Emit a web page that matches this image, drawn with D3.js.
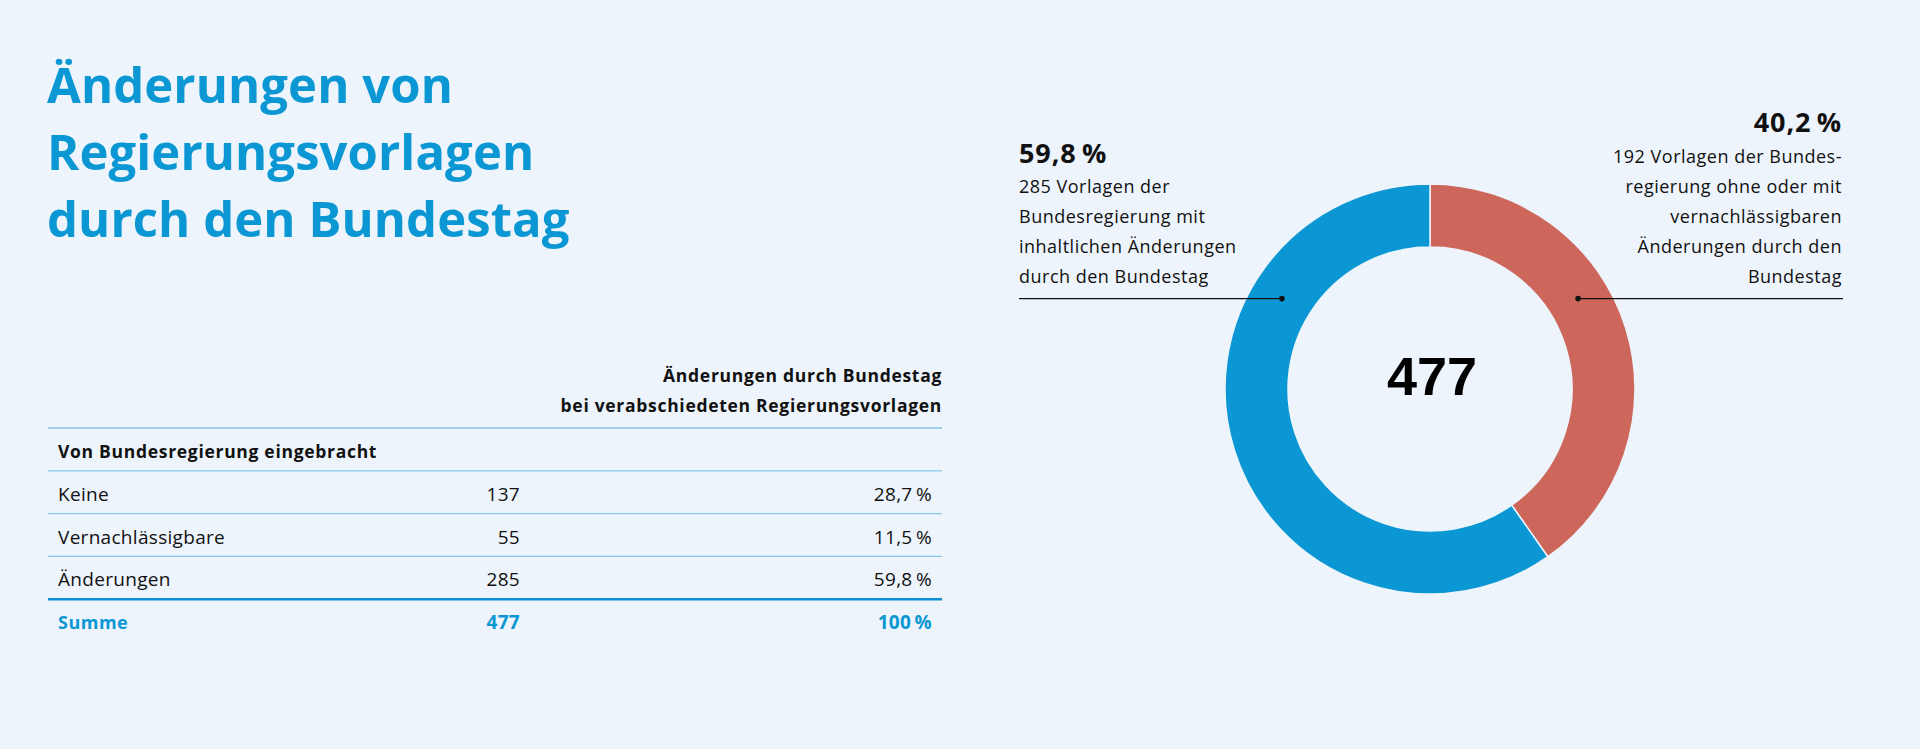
<!DOCTYPE html>
<html>
<head>
<meta charset="utf-8">
<script src="https://cdn.jsdelivr.net/npm/d3@7"></script>
<style>
  body { margin: 0; background: #edf4fc; }
  svg { display: block; }
</style>
</head>
<body>
<svg width="1920" height="749"></svg>
<script>
// data
var titleLines = ["Änderungen von", "Regierungsvorlagen", "durch den Bundestag"];
var tableHead = ["Änderungen durch Bundestag", "bei verabschiedeten Regierungsvorlagen"];
var groupLabel = "Von Bundesregierung eingebracht";
var rowLabels = ["Keine", "Vernachlässigbare", "Änderungen"];
var rowCounts = [137, 55, 285];
var rowShares = [28.7, 11.5, 59.8];
var sumLabel = "Summe";
var sumCount = 477;
var sumShare = 100;

var sliceNames = ["ohne", "mit"];
var sliceValues = [192, 285];
var sliceShares = [40.2, 59.8];
var sliceTexts = [
  ["192 Vorlagen der Bundes-", "regierung ohne oder mit", "vernachlässigbaren", "Änderungen durch den", "Bundestag"],
  ["285 Vorlagen der", "Bundesregierung mit", "inhaltlichen Änderungen", "durch den Bundestag"]
];

var blue = "#0a97d3", red = "#cd675c", ink = "#111";
var sans = "'Open Sans', sans-serif";
var de = d3.formatLocale({decimal: ",", thousands: ".", grouping: [3], currency: ["", " €"]});
var fmtPct = function(v) { return (v % 1 === 0 ? de.format("d")(v) : de.format(".1f")(v)) + "\u2009%"; };

var svg = d3.select("svg");

// title
svg.append("g").selectAll("text")
  .data(titleLines)
  .enter().append("text")
  .attr("x", 47)
  .attr("y", function(d, i) { return 103 + i * 67; })
  .style("font-family", sans)
  .style("font-weight", 700)
  .style("font-size", "49px")
  .style("letter-spacing", "0.1px")
  .style("fill", blue)
  .text(function(d) { return d; });

// table
var tbl = svg.append("g");
var left = 48, right = 942, colCount = 520, colShare = 932;

tbl.selectAll(".head")
  .data(tableHead)
  .enter().append("text")
  .attr("x", right)
  .attr("y", function(d, i) { return 382 + i * 30; })
  .attr("text-anchor", "end")
  .style("font-family", sans)
  .style("font-weight", 700)
  .style("font-size", "17.5px")
  .style("letter-spacing", "0.7px")
  .style("fill", ink)
  .text(function(d) { return d; });

var rows = [{label: groupLabel, group: true}]
  .concat(rowLabels.map(function(l, i) { return {label: l, count: rowCounts[i], share: rowShares[i]}; }))
  .concat([{label: sumLabel, count: sumCount, share: sumShare, sum: true}]);

var y = d3.scaleBand()
  .domain(d3.range(rows.length))
  .range([428, 428 + 42.8 * rows.length]);

// rules
tbl.selectAll(".rule")
  .data(rows)
  .enter().append("line")
  .attr("x1", left).attr("x2", right)
  .attr("y1", function(d, i) { return y(i); })
  .attr("y2", function(d, i) { return y(i); })
  .style("stroke", function(d) { return d.sum ? "#0a8fd0" : "#86c6ea"; })
  .style("stroke-width", function(d) { return d.sum ? 2.5 : 1.3; });

var cell = tbl.selectAll(".row")
  .data(rows)
  .enter().append("g")
  .attr("transform", function(d, i) { return "translate(0," + (y(i) + 30) + ")"; })
  .style("font-family", sans)
  .style("font-size", "19px")
  .style("letter-spacing", "0.3px")
  .style("fill", function(d) { return d.sum ? blue : ink; })
  .style("font-weight", function(d) { return (d.sum || d.group) ? 700 : 400; });

cell.append("text")
  .attr("x", 58)
  .style("font-size", function(d) { return d.group ? "17.5px" : (d.sum ? "18px" : null); })
  .style("letter-spacing", function(d) { return d.group ? "0.7px" : (d.sum ? "0.5px" : null); })
  .text(function(d) { return d.label; });

cell.filter(function(d) { return !d.group; }).append("text")
  .attr("x", colCount)
  .attr("text-anchor", "end")
  .text(function(d) { return de.format("d")(d.count); });

cell.filter(function(d) { return !d.group; }).append("text")
  .attr("x", colShare)
  .attr("text-anchor", "end")
  .text(function(d) { return fmtPct(d.share); });

// donut
var cx = 1430, cy = 389, R = 205, r = 142;
var pie = d3.pie().sort(null)(sliceValues);
var arc = d3.arc().innerRadius(r).outerRadius(R);
var mid = d3.arc().innerRadius((r + R) / 2).outerRadius((r + R) / 2);

var donut = svg.append("g").attr("transform", "translate(" + cx + "," + cy + ")");
donut.selectAll("path")
  .data(pie)
  .enter().append("path")
  .attr("d", arc)
  .style("fill", function(d, i) { return i === 0 ? red : blue; })
  .style("stroke", "#edf4fc")
  .style("stroke-width", 1.5);

donut.append("text")
  .attr("x", 2)
  .attr("y", 6)
  .attr("text-anchor", "middle")
  .style("font-family", "'Liberation Sans', Arial, sans-serif")
  .style("font-weight", 700)
  .style("font-size", "54px")
  .style("fill", "#000")
  .text(de.format("d")(d3.sum(sliceValues)));

// callouts: dots sit on the ring's mid radius at +-58.6 deg
var pointAngle = 58.6 * Math.PI / 180;
var callouts = [
  {i: 0, a: pointAngle, anchor: "end", tx: 1842, lineEnd: 1843, pctY: 132},
  {i: 1, a: -pointAngle, anchor: "start", tx: 1019, lineEnd: 1019, pctY: 163}
];

var co = svg.append("g").selectAll("g")
  .data(callouts)
  .enter().append("g");

co.each(function(c) {
  var g = d3.select(this);
  var p = mid.centroid({startAngle: c.a, endAngle: c.a});
  var px = cx + p[0], py = cy + p[1];
  g.append("line")
    .attr("x1", px).attr("x2", c.lineEnd)
    .attr("y1", py).attr("y2", py)
    .style("stroke", ink).style("stroke-width", 1.3);
  g.append("circle")
    .attr("cx", px).attr("cy", py).attr("r", 2.8)
    .style("fill", ink);
  g.append("text")
    .attr("x", c.tx).attr("y", c.pctY)
    .attr("text-anchor", c.anchor)
    .style("font-family", sans)
    .style("font-weight", 700)
    .style("font-size", "27px")
    .style("letter-spacing", "0.9px")
    .style("fill", ink)
    .text(fmtPct(sliceShares[c.i]));
  g.selectAll(".ln")
    .data(sliceTexts[c.i])
    .enter().append("text")
    .attr("x", c.tx)
    .attr("y", function(d, k) { return 193 + k * 30 - (c.i === 0 ? 30 : 0); })
    .attr("text-anchor", c.anchor)
    .style("font-family", sans)
    .style("font-size", "18px")
    .style("letter-spacing", "0.5px")
    .style("fill", ink)
    .text(function(d) { return d; });
});
</script>
</body>
</html>
